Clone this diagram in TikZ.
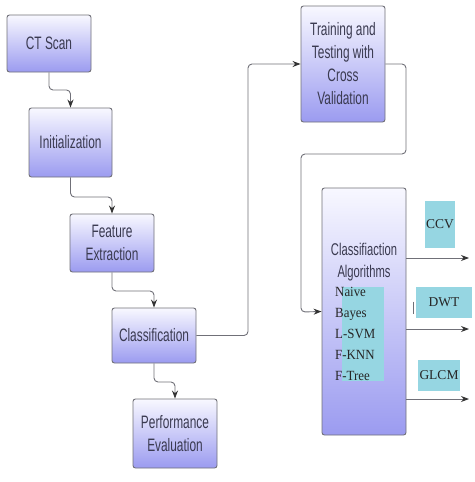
\documentclass[tikz,border=0pt]{standalone}
\usepackage{fontspec}
\setmainfont{Liberation Serif}
\newfontfamily\narrowsans[FakeStretch=0.66]{Liberation Sans}
\newfontfamily\listserif[FakeStretch=0.92]{Liberation Serif}
\usetikzlibrary{arrows.meta}
\definecolor{txt}{RGB}{58,58,80}
\definecolor{bord}{RGB}{112,112,120}
\definecolor{topc}{RGB}{248,248,255}
\definecolor{botc}{RGB}{155,155,240}
\definecolor{cyanbox}{RGB}{150,214,226}
\tikzset{
  x=1pt,y=-1pt,
  procbox/.style={draw=bord,line width=0.9pt,rounded corners=2.5pt,top color=topc,bottom color=botc,
    text=txt,font=\narrowsans\fontsize{18}{23}\selectfont,align=center,inner sep=0pt},
  conn/.style={draw=bord,line width=0.9pt,rounded corners=4pt,-{Stealth[length=8pt,width=6pt,black!80]}},
  tagbox/.style={fill=cyanbox,draw=none,inner sep=0pt,font=\fontsize{13.5}{16}\selectfont,text=black!85},
}
\begin{document}
\begin{tikzpicture}
\useasboundingbox (0,0) rectangle (474,482);
\node[procbox,minimum width=84pt,minimum height=57pt] (ct) at (49,43.5) {CT Scan};
\node[procbox,minimum width=83pt,minimum height=69pt] (init) at (70.5,142.5) {Initialization};
\node[procbox,minimum width=84pt,minimum height=58pt] (feat) at (112,243) {Feature\\Extraction};
\node[procbox,minimum width=84pt,minimum height=55pt] (cls) at (154,335.5) {Classification};
\node[procbox,minimum width=84pt,minimum height=69pt] (perf) at (175,433.5) {Performance\\Evaluation};
\node[procbox,minimum width=84pt,minimum height=116pt] (train) at (343,64) {Training and\\Testing with\\Cross\\Validation};
\node[procbox,minimum width=84pt,minimum height=247pt] (alg) at (364,311.5) {};
% cyan highlight inside
\node[tagbox,minimum width=42pt,minimum height=94pt] (hl) at (363,334) {};
\node[text=txt,font=\narrowsans\fontsize{17}{22}\selectfont,align=center] (algt) at (364,262.5) {Classifiaction\\Algorithms};
\node[anchor=north west,inner sep=0pt,align=left,font=\listserif\fontsize{14}{21}\selectfont,text=black!85] (list) at (335,287) {Naive\\Bayes\\L-SVM\\F-KNN\\F-Tree};
% tag boxes
\node[tagbox,minimum width=30pt,minimum height=47pt] (ccv) at (440,224.5) {CCV};
\node[tagbox,minimum width=56pt,minimum height=31pt] (dwt) at (444,302.5) {DWT};
\node[tagbox,minimum width=42pt,minimum height=31pt] (glcm) at (439,375.5) {GLCM};
\draw[bord,line width=1pt] (dwt.west) ++(-2,-1) coordinate (m1) -- ++(0,12) coordinate (m2);
% connectors
\draw[conn] (ct.south) -- (ct.south |- 0,90) -- (init.north |- 0,90) -- (init.north);
\draw[conn] (init.south) -- (init.south |- 0,197) -- (feat.north |- 0,197) -- (feat.north);
\draw[conn] (feat.south) -- (feat.south |- 0,291) -- (cls.north |- 0,291) -- (cls.north);
\draw[conn] (cls.south) -- (cls.south |- 0,382) -- (perf.north |- 0,382) -- (perf.north);
\draw[conn] (cls.east) -- (248,335.5) -- (248,64) -- (train.west);
\draw[conn] (train.east) -- (406,64) -- (406,154) -- (301,154) -- (301,312) -- (alg.west);
\coordinate (o1) at (469,258);
\coordinate (o2) at (469,329);
\coordinate (o3) at (469,399);
\draw[conn] (alg.east |- o1) -- (o1);
\draw[conn] (alg.east |- o2) -- (o2);
\draw[conn] (alg.east |- o3) -- (o3);
\end{tikzpicture}
\end{document}
